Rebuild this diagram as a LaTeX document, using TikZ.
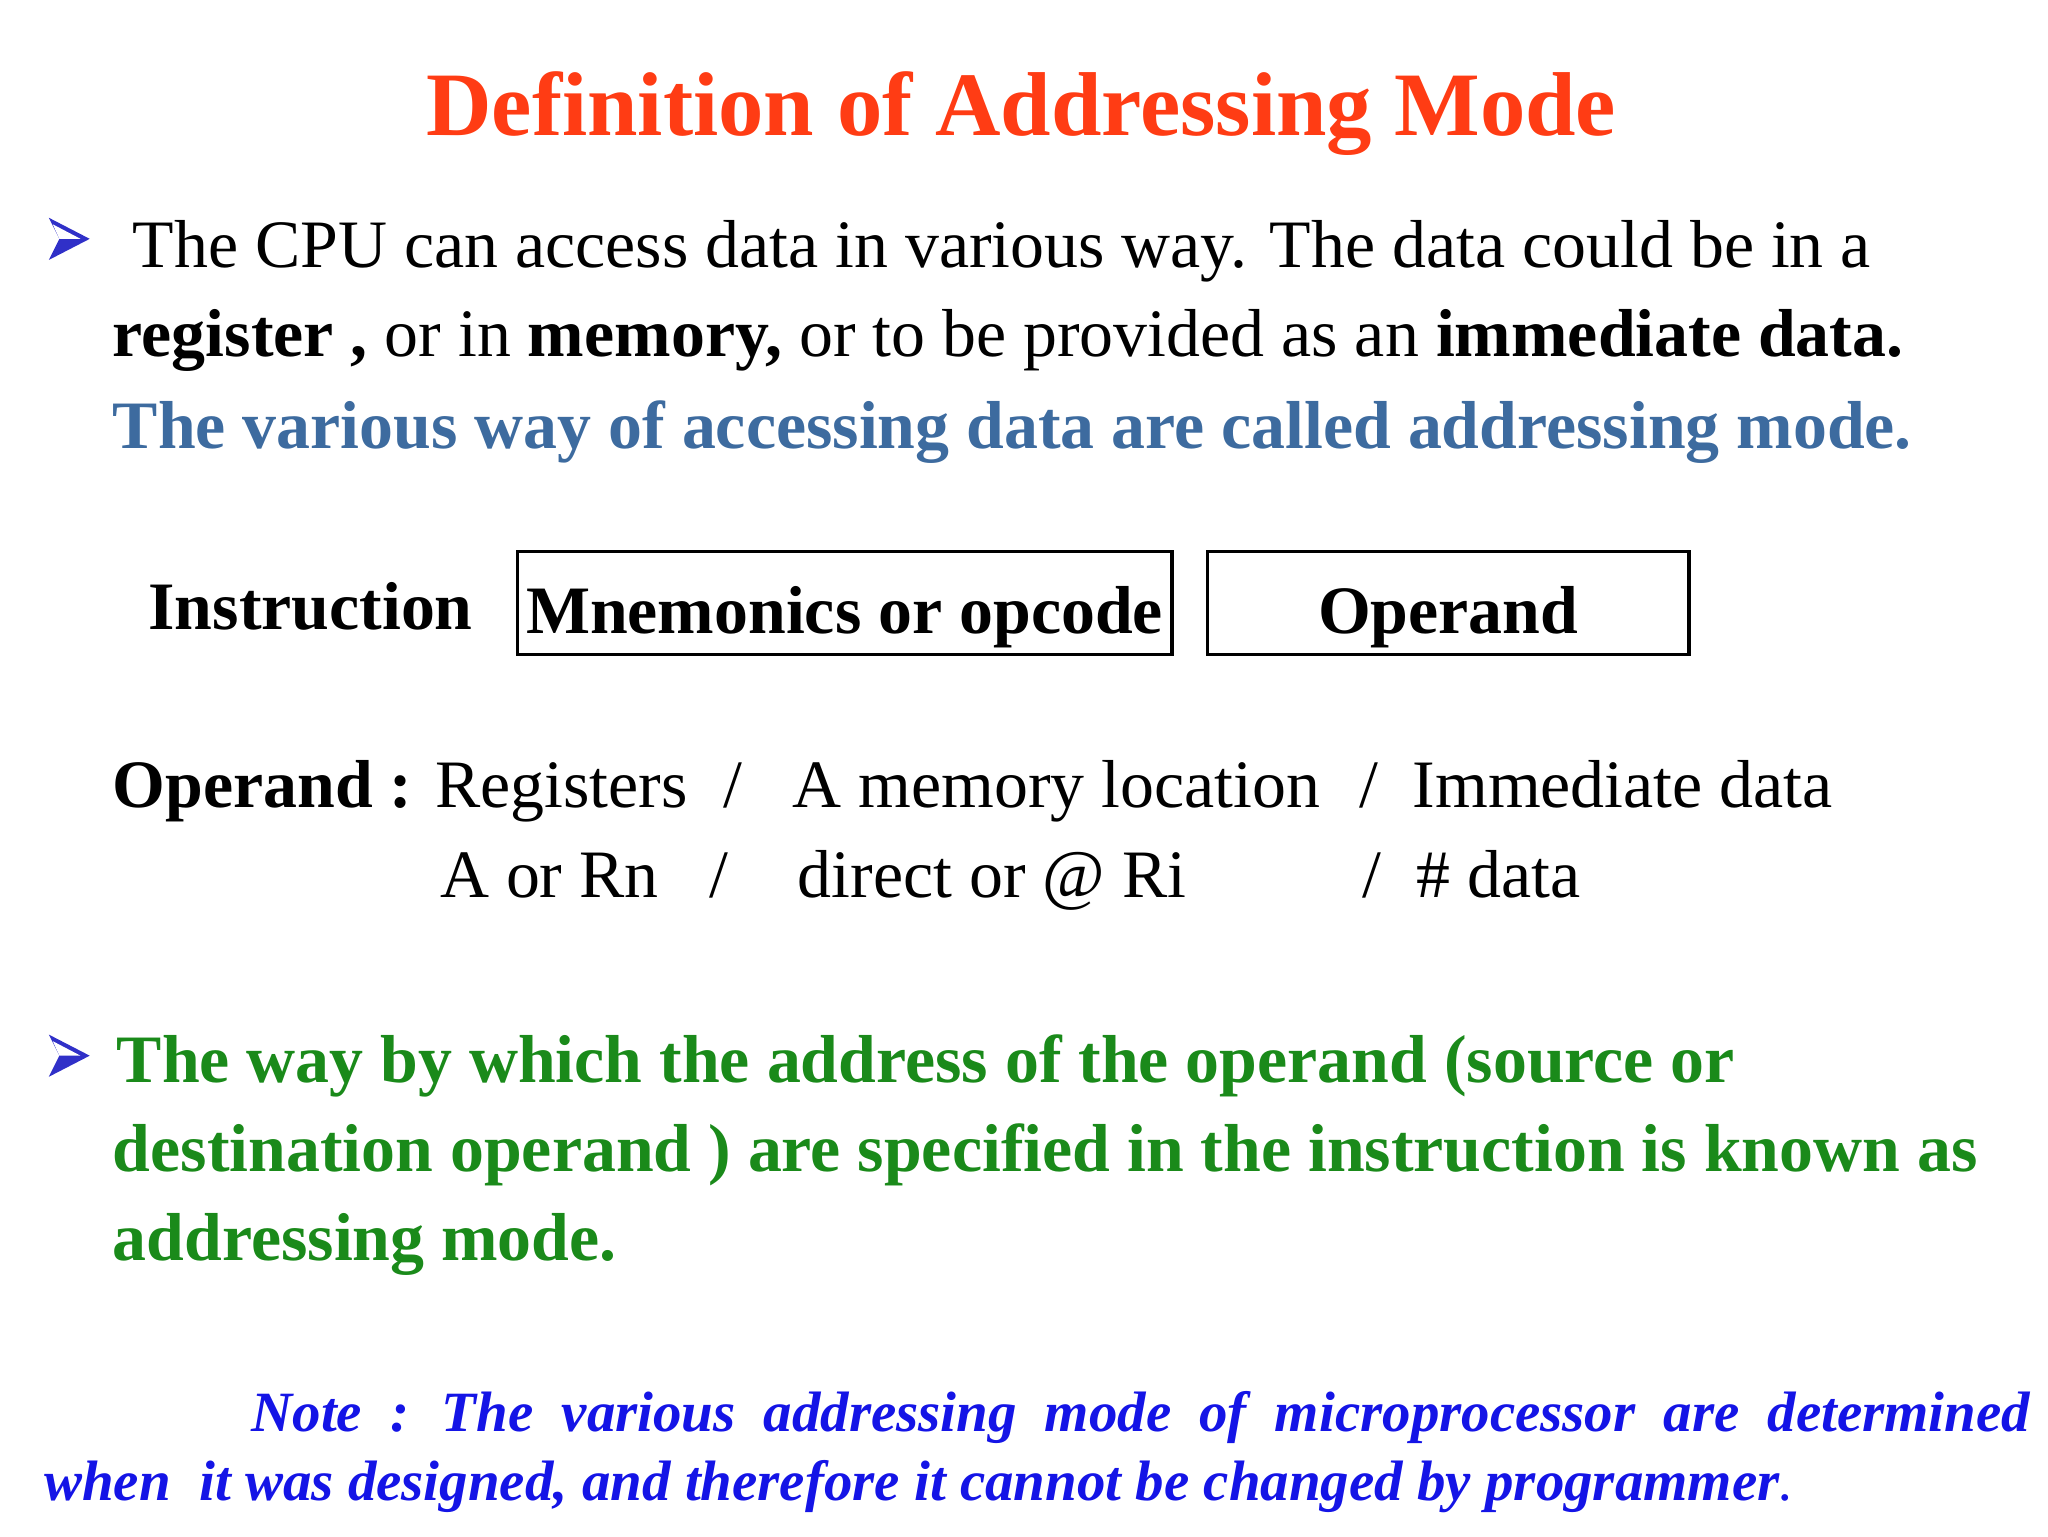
\documentclass[tikz,border=0pt]{standalone}
\usepackage{fontspec}
\setmainfont{Liberation Serif}
\definecolor{titlered}{HTML}{FF3C14}
\definecolor{steel}{HTML}{3D6B9F}
\definecolor{grn}{HTML}{1A8A1A}
\definecolor{noteblue}{HTML}{1414E6}
\definecolor{bul}{HTML}{3030C8}
\begin{document}
\begin{tikzpicture}[x=0.3754pt,y=-0.3754pt,
  txt/.style={anchor=base west,inner sep=0pt,font=\fontsize{19.3}{23}\selectfont},
  box/.style={draw,line width=1pt,minimum width=#1*0.3754pt,minimum height=78*0.3754pt,inner sep=0pt},
  bulletarrow/.pic={\fill[bul] (0,-16)--(31,0)--(0,16)--(8,0)--cycle; \fill[white] (3,-11)--(24,0)--(8,0)--cycle;}]
\useasboundingbox (0,0) rectangle (1552,1164);
\node[anchor=base,inner sep=0pt,text=titlered,font=\fontsize{25.8}{30}\bfseries] (title) at (774,103) {Definition of Addressing Mode};
\pic at (37,181) {bulletarrow};
\node[txt] (l1) at (100,203) {The CPU can access data in various way. The data could be in a};
\node[txt] (l2) at (85,270) {\textbf{register ,} or in \textbf{memory,} or to be provided as an \textbf{immediate data.}};
\node[txt,text=steel,font=\fontsize{19.3}{23}\bfseries] (l3) at (85,340) {The various way of accessing data are called addressing mode.};
\node[txt,font=\fontsize{19.3}{23}\bfseries] (ins) at (112,477) {Instruction};
\node[box=496] (mn) at (640,457) {};
\node[anchor=base,inner sep=0pt,font=\fontsize{19.3}{23}\bfseries] (mnt) at (640,480) {Mnemonics or opcode};
\node[box=365] (op) at (1097.5,457) {};
\node[anchor=base,inner sep=0pt,font=\fontsize{19.3}{23}\bfseries] (opt) at (1097.5,480) {Operand};
\node[txt] (o1) at (85,612) {\textbf{Operand :} Registers};
\node[txt] (s1) at (548,612) {/};
\node[txt] (o2) at (600,612) {A memory location};
\node[txt] (s2) at (1030,612) {/};
\node[txt] (o3) at (1070,612) {Immediate data};
\node[txt] (p1) at (333,680) {A or Rn};
\node[txt] (s3) at (537,680) {/};
\node[txt] (p2) at (604,680) {direct or @ Ri};
\node[txt] (s4) at (1032,680) {/};
\node[txt] (p3) at (1073,680) {\# data};
\pic at (37,800) {bulletarrow};
\begin{scope}[every node/.style={txt,text=grn,font=\fontsize{19.3}{23}\bfseries}]
\node (g1) at (88,820) {The way by which the address of the operand (source or};
\node (g2) at (85,888) {destination operand ) are specified in the instruction is known as};
\node (g3) at (85,955) {addressing mode.};
\end{scope}
\begin{scope}[every node/.style={txt,text=noteblue,font=\fontsize{16.2}{20}\bfseries\itshape}]
\node (n1) at (190,1085) {\makebox[506pt][s]{Note \ : \ The \ various \ addressing \ mode \ of \ microprocessor \ are \ determined}};
\node (n2) at (33,1137) {when \ it was designed, and therefore it cannot be changed by programmer\textmd{.}};
\end{scope}
\end{tikzpicture}
\end{document}
